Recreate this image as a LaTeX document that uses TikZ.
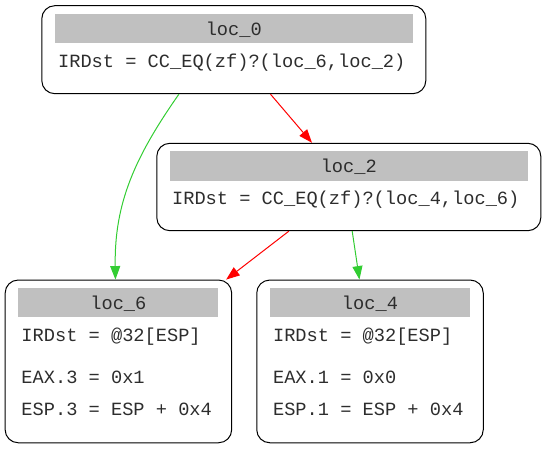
\documentclass[tikz,border=0pt]{standalone}
\usepackage{fontspec}
\setmonofont{Liberation Mono}
\usepackage{xcolor}
\usetikzlibrary{arrows.meta,positioning}

\definecolor{hdrgray}{RGB}{192,192,192}
\definecolor{tgreen}{RGB}{50,205,50}
\definecolor{codeink}{RGB}{45,45,45}
\newcommand{\blkfont}{\fontsize{18.67}{22}\selectfont\ttfamily}

\tikzset{
  blk/.style 2 args={draw=black, line width=1pt, rounded corners=13pt,
    minimum width=#1, minimum height=#2, inner sep=0pt},
  hdr/.style={fill=hdrgray, minimum width=#1, minimum height=29.3pt,
    inner sep=0pt, text height=14pt, text depth=0pt, text=codeink, font=\blkfont},
  ln/.style={inner sep=0pt, anchor=base west, text=codeink, font=\blkfont},
  tedge/.style={draw=tgreen, line width=1pt, -{Triangle[length=13.5pt,width=10pt,fill=tgreen]}},
  fedge/.style={draw=red, line width=1pt, -{Triangle[length=13.5pt,width=10pt,fill=red]}},
}

\begin{document}
\begin{tikzpicture}[x=1pt,y=1pt]
  \useasboundingbox (0,0) rectangle (545,-449);

  % blocks
  \node[blk={384pt}{88pt}] (b0) at (233.8,-49.7) {} ; %
  \node[blk={384pt}{87.4pt}] (b2) at (348.8,-187) {} ; %
  \node[blk={226.5pt}{162.7pt}] (b6) at (118.4,-361.4) {} ; %
  \node[blk={226.5pt}{162.7pt}] (b4) at (370,-361.4) {} ; %

  % headers
  \node[hdr=357.8pt, below=8.3pt of b0.north] (h0) {loc\_0} ; %
  \node[hdr=357.8pt, below=8.3pt of b2.north] (h2) {loc\_2} ; %
  \node[hdr=200pt, below=8.3pt of b6.north] (h6) {loc\_6} ; %
  \node[hdr=200pt, below=8.3pt of b4.north] (h4) {loc\_4} ; %

  % code lines
  \node[ln] (l0) at ([shift={(16.6pt,-62pt)}]b0.north west) {IRDst = CC\_EQ(zf)?(loc\_6,loc\_2)} ; %
  \node[ln] (l2) at ([shift={(15.6pt,-61.7pt)}]b2.north west) {IRDst = CC\_EQ(zf)?(loc\_4,loc\_6)} ; %

  \node[ln] (l6a) at ([shift={(16.6pt,-61.9pt)}]b6.north west) {IRDst = @32[ESP]} ; %
  \node[ln] (l6b) at ([shift={(16.6pt,-104.2pt)}]b6.north west) {EAX.3 = 0x1} ; %
  \node[ln] (l6c) at ([shift={(16.6pt,-135.9pt)}]b6.north west) {ESP.3 = ESP + 0x4} ; %

  \node[ln] (l4a) at ([shift={(16.6pt,-61.9pt)}]b4.north west) {IRDst = @32[ESP]} ; %
  \node[ln] (l4b) at ([shift={(16.6pt,-104.2pt)}]b4.north west) {EAX.1 = 0x0} ; %
  \node[ln] (l4c) at ([shift={(16.6pt,-135.9pt)}]b4.north west) {ESP.1 = ESP + 0x4} ; %

  % edges
  \draw[tedge] ([xshift=137.6pt]b0.south west) to[out=-125,in=91] ([xshift=110.8pt]b6.north west) ;
  \draw[fedge] ([xshift=229.2pt]b0.south west) -- ([xshift=155.7pt]b2.north west) ;
  \draw[fedge] ([xshift=132.5pt]b2.south west) -- ([xshift=-6pt]b6.north east) ;
  \draw[tedge] ([xshift=195.9pt]b2.south west) -- ([xshift=103.2pt]b4.north west) ;
\end{tikzpicture}
\end{document}
